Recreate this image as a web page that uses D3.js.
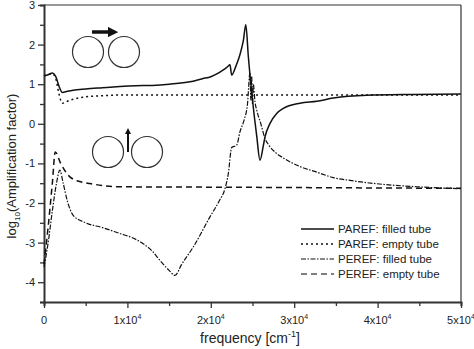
<!DOCTYPE html>
<html>
<head>
<meta charset="utf-8">
<script src="https://cdn.jsdelivr.net/npm/d3@7"></script>
<style>
body { margin: 0; background: #fff; }
text { font-family: "Liberation Sans", Arial, sans-serif; fill: #222; }
</style>
</head>
<body>
<svg width="474" height="349"></svg>
<script>
// frequency in cm^-1, values are log10(amplification factor)
var parefFilledX = [0, 500, 1000, 1400, 1800, 2200, 2800, 3500, 5000, 7000, 9100, 11000, 13000, 15000, 17500, 19000, 20000, 21000, 21500, 22000, 22300, 22500, 23000, 23500, 23900, 24200, 24500, 25000, 25500, 25900, 26300, 26500, 27100, 27900, 28700, 30700, 32700, 34700, 38700, 44200, 50000];
var parefFilledY = [1.21, 1.24, 1.28, 1.2, 0.95, 0.79, 0.82, 0.85, 0.88, 0.91, 0.94, 0.96, 0.97, 1.0, 1.06, 1.14, 1.19, 1.29, 1.36, 1.44, 1.49, 1.23, 1.45, 1.75, 2.1, 2.5, 1.7, 0.6, -0.3, -0.92, -0.55, -0.33, 0.01, 0.26, 0.39, 0.52, 0.57, 0.65, 0.72, 0.74, 0.75];

var parefEmptyX = [0, 1000, 1400, 1800, 2200, 2800, 3500, 5000, 7000, 10000, 50000];
var parefEmptyY = [1.21, 1.26, 1.15, 0.75, 0.52, 0.57, 0.62, 0.68, 0.71, 0.73, 0.73];

var perefFilledX = [0, 500, 1000, 1500, 1900, 2300, 2800, 3500, 5000, 7000, 9100, 10500, 11900, 13000, 13900, 15000, 15700, 16500, 17900, 19900, 21000, 21700, 22100, 22500, 23100, 23500, 24000, 24400, 24700, 24800, 24900, 25000, 25100, 25300, 25500, 26000, 26500, 27000, 27900, 28600, 30700, 32700, 34700, 36700, 40700, 44700, 50000];
var perefFilledY = [-3.62, -3.0, -2.2, -1.5, -1.17, -1.5, -1.95, -2.31, -2.5, -2.62, -2.77, -2.87, -3.03, -3.22, -3.45, -3.7, -3.83, -3.55, -3.11, -2.35, -1.95, -1.64, -1.26, -0.6, -0.54, -0.2, 0.1, 0.5, 1.3, 0.6, 1.2, 0.5, 1.0, 0.55, 0.35, 0.0, -0.37, -0.55, -0.75, -0.85, -1.08, -1.22, -1.36, -1.43, -1.53, -1.59, -1.64];

var perefEmptyX = [0, 500, 1000, 1350, 2000, 3100, 4500, 5500, 9100, 20000, 30000, 50000];
var perefEmptyY = [-3.55, -2.6, -1.5, -0.71, -1.0, -1.34, -1.47, -1.51, -1.59, -1.6, -1.61, -1.63];

var xTicks = [0, 10000, 20000, 30000, 40000, 50000];
var xTickLabels = ["0", "1x10", "2x10", "3x10", "4x10", "5x10"];
var yTicks = [-4, -3, -2, -1, 0, 1, 2, 3];

var legendLabels = ["PAREF: filled tube", "PAREF: empty tube", "PEREF: filled tube", "PEREF: empty tube"];
var dashes = [null, "2,3", "5,1.5,1.5,1.5", "6,4"];

var svg = d3.select("svg"),
  margin = {left: 44, right: 13, top: 5, bottom: 47},
  width = 474 - margin.left - margin.right,
  height = 349 - margin.top - margin.bottom;

var x = d3.scaleLinear().domain([0, 50000]).range([margin.left, margin.left + width]);
var y = d3.scaleLinear().domain([-4.5, 3]).range([margin.top + height, margin.top]);

var g = svg.append("g");

// frame
g.append("line").attr("x1", x(0)).attr("x2", x(50000)).attr("y1", y(3)).attr("y2", y(3))
  .attr("stroke", "#333").attr("stroke-width", 1.2);
g.append("line").attr("x1", x(50000)).attr("x2", x(50000)).attr("y1", y(3)).attr("y2", y(-4.5))
  .attr("stroke", "#333").attr("stroke-width", 1.2);

// axes
var xAxis = g.append("g").attr("transform", "translate(0," + y(-4.5) + ")")
  .call(d3.axisBottom(x).tickValues(d3.range(0, 50001, 5000)).tickSize(4).tickFormat(""));
xAxis.selectAll(".tick line").attr("y2", function(d) { return d % 10000 === 0 ? 6 : 4; });
var yAxis = g.append("g").attr("transform", "translate(" + x(0) + ",0)")
  .call(d3.axisLeft(y).tickValues(d3.range(-4.5, 3.01, 0.5)).tickSize(4).tickFormat(""));
yAxis.selectAll(".tick line").attr("x2", function(d) { return d % 1 === 0 ? -6 : -4; });
g.selectAll(".domain").attr("stroke", "#333").attr("stroke-width", 2);
g.selectAll(".tick line").attr("stroke", "#333").attr("stroke-width", 1.3);

// tick labels
yTicks.forEach(function(v) {
  g.append("text").attr("x", x(0) - 9).attr("y", y(v) + 4)
    .attr("text-anchor", "end").attr("font-size", 11).text(v);
});
xTicks.forEach(function(v, i) {
  var t = g.append("text").attr("x", x(v)).attr("y", y(-4.5) + 22)
    .attr("text-anchor", "middle").attr("font-size", 11);
  t.append("tspan").text(xTickLabels[i]);
  if (v > 0) t.append("tspan").attr("dy", -5).attr("font-size", 7).text("4");
});

// axis titles
var xt = g.append("text").attr("x", 250).attr("y", 343).attr("text-anchor", "middle").attr("font-size", 14);
xt.append("tspan").text("frequency [cm");
xt.append("tspan").attr("dy", -6).attr("font-size", 9).text("-1");
xt.append("tspan").attr("dy", 6).text("]");

var yt = g.append("text").attr("transform", "translate(16,166) rotate(-90)")
  .attr("text-anchor", "middle").attr("font-size", 13);
yt.append("tspan").text("log");
yt.append("tspan").attr("dy", 4).attr("font-size", 8).text("10");
yt.append("tspan").attr("dy", -4).text("(Amplification factor)");

// curves
var series = [
  {xs: parefFilledX, ys: parefFilledY, w: 1.5},
  {xs: parefEmptyX, ys: parefEmptyY, w: 1.5},
  {xs: perefFilledX, ys: perefFilledY, w: 1.2},
  {xs: perefEmptyX, ys: perefEmptyY, w: 1.5}
];
var line = d3.line()
  .x(function(d) { return x(d[0]); })
  .y(function(d) { return y(d[1]); })
  .curve(d3.curveMonotoneX);

series.forEach(function(s, i) {
  g.append("path")
    .datum(d3.zip(s.xs, s.ys))
    .attr("d", line)
    .attr("fill", "none")
    .attr("stroke", "#111")
    .attr("stroke-width", s.w)
    .attr("stroke-dasharray", dashes[i]);
});

// legend
legendLabels.forEach(function(lab, i) {
  var ly = 233 + i * 15;
  g.append("line").attr("x1", 301).attr("x2", 334).attr("y1", ly - 4).attr("y2", ly - 4)
    .attr("stroke", i === 3 ? "#555" : "#111").attr("stroke-width", series[i].w)
    .attr("stroke-dasharray", dashes[i]);
  g.append("text").attr("x", 338).attr("y", ly).attr("font-size", 11.5).text(lab);
});

// inset sketches of the two tubes
var defs = svg.append("defs");
defs.append("marker").attr("id", "head").attr("viewBox", "0 0 10 10")
  .attr("refX", 5).attr("refY", 5).attr("markerWidth", 3).attr("markerHeight", 3)
  .attr("orient", "auto")
  .append("path").attr("d", "M0,0L10,5L0,10z").attr("fill", "#111");

var tubes = [[88, 52], [124, 52], [108, 152], [147, 152]];
g.selectAll(".tube").data(tubes).enter().append("circle")
  .attr("cx", function(d) { return d[0]; })
  .attr("cy", function(d) { return d[1]; })
  .attr("r", 15.5)
  .attr("fill", "none").attr("stroke", "#333").attr("stroke-width", 1.2);

g.append("line").attr("x1", 92).attr("y1", 32).attr("x2", 113).attr("y2", 32)
  .attr("stroke", "#111").attr("stroke-width", 3.5).attr("marker-end", "url(#head)");
g.append("line").attr("x1", 128).attr("y1", 152).attr("x2", 128).attr("y2", 131)
  .attr("stroke", "#111").attr("stroke-width", 2).attr("marker-end", "url(#head)");
</script>
</body>
</html>
